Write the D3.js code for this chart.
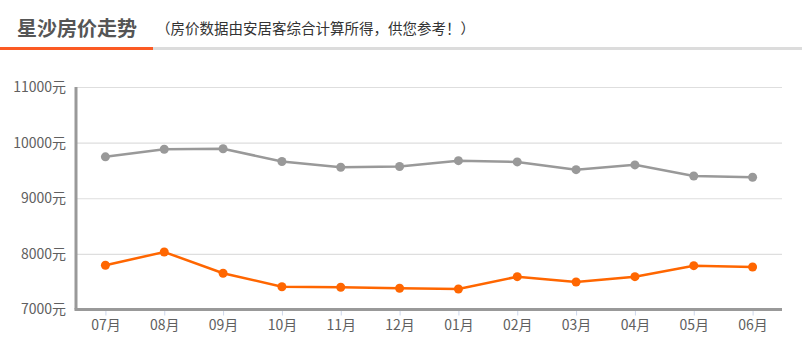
<!DOCTYPE html>
<html>
<head>
<meta charset="utf-8">
<script src="https://cdn.jsdelivr.net/npm/d3@7"></script>
<style>
    body { margin: 0; background: #fff; font-family: "Noto Sans CJK SC", "Noto Sans", sans-serif; }
    svg { display: block; }
</style>
</head>
<body>
<svg id="chart"></svg>
<script>
const width = 802,
    height = 359;

const margin = {top: 87, right: 20, bottom: 49.5, left: 76};

const months = ["07月", "08月", "09月", "10月", "11月", "12月", "01月", "02月", "03月", "04月", "05月", "06月"];
const greySeries = [9745, 9880, 9890, 9660, 9557, 9570, 9676, 9653, 9514, 9600, 9400, 9378];
const orangeSeries = [7795, 8034, 7651, 7410, 7399, 7381, 7369, 7590, 7495, 7590, 7788, 7764];
const yTicks = [7000, 8000, 9000, 10000, 11000];

const title = "星沙房价走势",
    subtitle = "（房价数据由安居客综合计算所得，供您参考！）";

let svg = d3.select("#chart").attr("width", width).attr("height", height);

// header
svg.append("text")
    .attr("x", 17).attr("y", 36)
    .attr("font-size", 20).attr("font-weight", "bold")
    .attr("fill", "#555")
    .text(title);
svg.append("text")
    .attr("x", 156).attr("y", 34)
    .attr("font-size", 14.5)
    .attr("fill", "#333")
    .text(subtitle);
svg.append("rect").attr("x", 0).attr("y", 47).attr("width", width).attr("height", 3).attr("fill", "#dcdcdc");
svg.append("rect").attr("x", 0).attr("y", 47).attr("width", 153).attr("height", 3).attr("fill", "#fb5a23");

let plotW = width - margin.left - margin.right,
    plotH = height - margin.top - margin.bottom;

let g = svg.append("g").attr("transform", `translate(${margin.left},${margin.top})`);

let x = d3.scalePoint().domain(months).range([0, plotW]).padding(0.5);
let y = d3.scaleLinear().domain([7000, 11000]).range([plotH, 0]);

// grid lines
g.append("g")
    .call(d3.axisLeft(y).tickValues(yTicks).tickSize(-plotW).tickFormat(""))
    .call(a => a.select(".domain").remove())
    .call(a => a.selectAll("line").attr("stroke", "#dedede").attr("stroke-width", 1.2));

// y labels
g.append("g")
    .call(d3.axisLeft(y).tickValues(yTicks).tickSize(0).tickPadding(10).tickFormat(d => d + "元"))
    .call(a => a.select(".domain").remove())
    .call(a => a.selectAll("text")
        .attr("font-family", "Noto Sans CJK SC, sans-serif")
        .attr("font-size", 14)
        .attr("fill", "#606060"));

// x axis
g.append("g")
    .attr("transform", `translate(0,${plotH})`)
    .call(d3.axisBottom(x).tickSize(6).tickSizeOuter(0).tickPadding(5))
    .call(a => a.select(".domain").remove())
    .call(a => a.selectAll("line").attr("stroke", "#ccd6eb"))
    .call(a => a.selectAll("text")
        .attr("font-family", "Noto Sans CJK SC, sans-serif")
        .attr("font-size", 14)
        .attr("fill", "#606060"));

// axis lines
g.append("line").attr("x1", 0).attr("x2", 0).attr("y1", 0).attr("y2", plotH)
    .attr("stroke", "#999").attr("stroke-width", 3);
g.append("line").attr("x1", -1.5).attr("x2", plotW).attr("y1", plotH).attr("y2", plotH)
    .attr("stroke", "#999").attr("stroke-width", 3);

let line = d3.line()
    .x((d, i) => x(months[i]))
    .y(d => y(d));

function drawSeries(values, color) {
    g.append("path")
        .datum(values)
        .attr("fill", "none")
        .attr("stroke", color)
        .attr("stroke-width", 2.5)
        .attr("d", line);
    g.selectAll(null)
        .data(values)
        .enter().append("circle")
        .attr("cx", (d, i) => x(months[i]))
        .attr("cy", d => y(d))
        .attr("r", 4.5)
        .attr("fill", color);
}

drawSeries(greySeries, "#999999");
drawSeries(orangeSeries, "#ff6600");
</script>
</body>
</html>
